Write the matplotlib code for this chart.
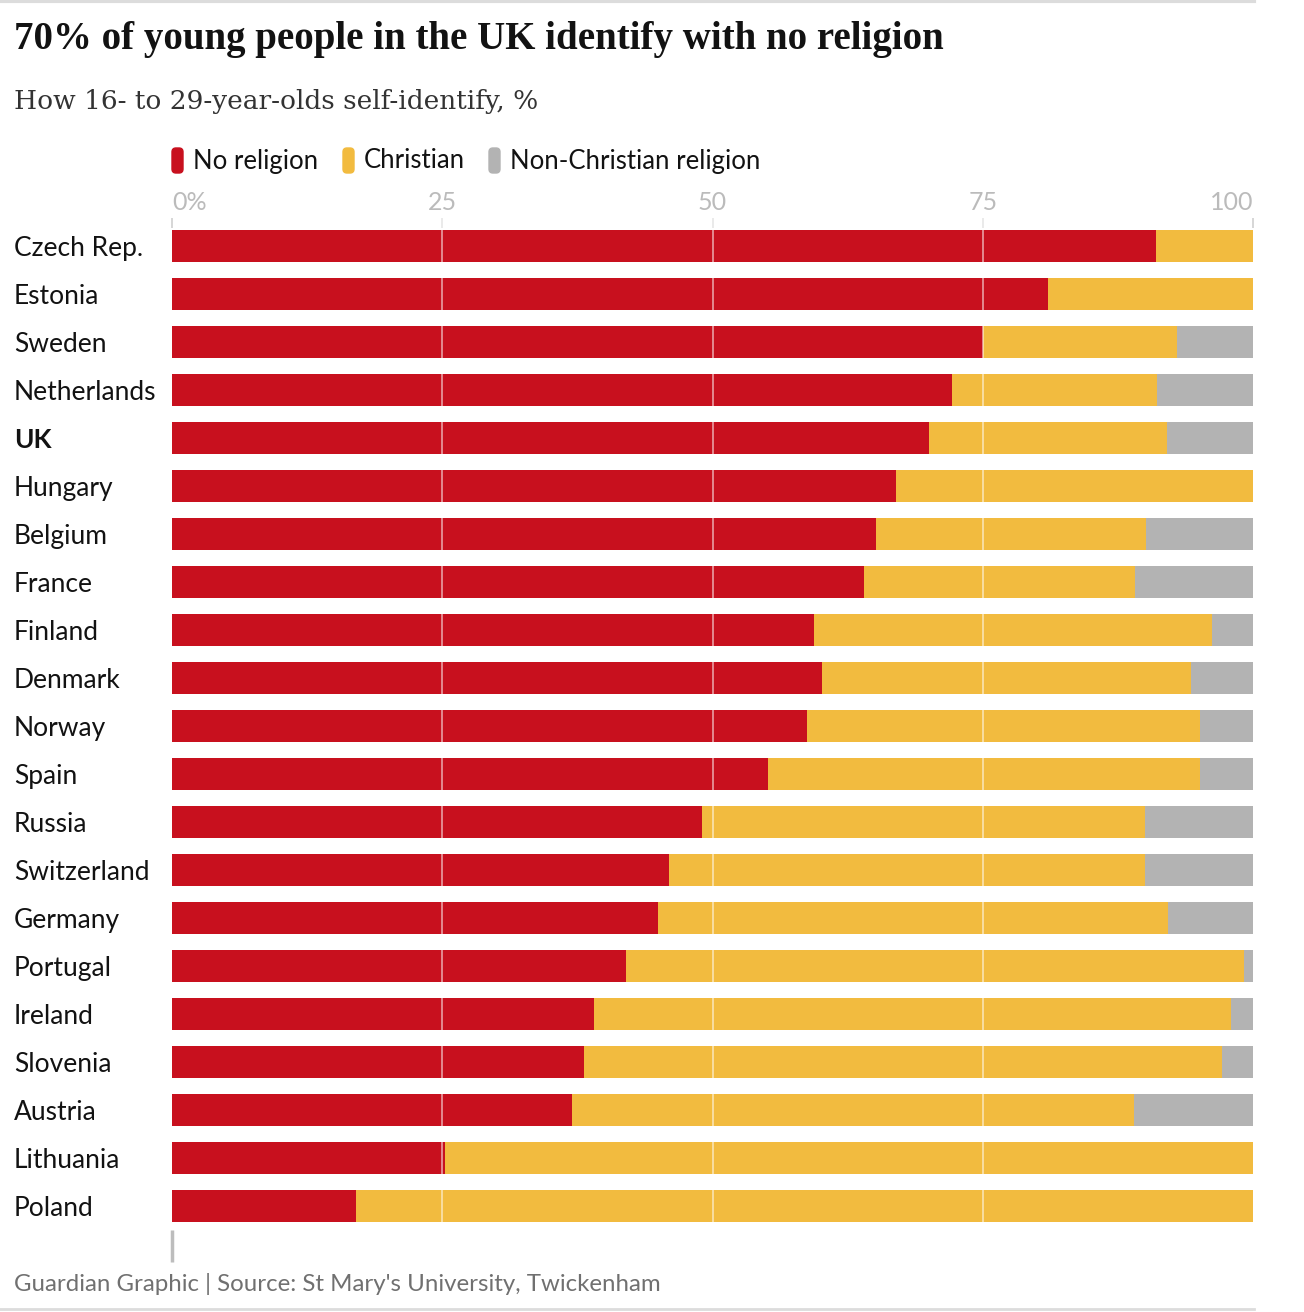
import matplotlib.pyplot as plt
from matplotlib.patches import FancyBboxPatch
import numpy as np

# data (% of 16-29 year olds)
countries = ['Czech Rep.', 'Estonia', 'Sweden', 'Netherlands', 'UK', 'Hungary',
             'Belgium', 'France', 'Finland', 'Denmark', 'Norway', 'Spain',
             'Russia', 'Switzerland', 'Germany', 'Portugal', 'Ireland',
             'Slovenia', 'Austria', 'Lithuania', 'Poland']
no_religion = [91, 81, 75, 72.2, 70, 67, 65.1, 64, 59.4, 60.1, 58.7, 55.1, 49, 46, 45, 42, 39, 38.1, 37, 25.3, 17]
christian = [9, 19, 18, 18.9, 22, 33, 25, 25.1, 36.8, 34.2, 36.4, 40, 41, 44, 47.1, 57.2, 59, 59, 52, 74.7, 83]
non_christian = [0, 0, 7, 8.9, 8, 0, 9.9, 10.9, 3.8, 5.7, 4.9, 4.9, 10, 10, 7.9, 0.8, 2, 2.9, 11, 0, 0]

x_ticks = [0, 25, 50, 75, 100]
x_labels = ['0%', '25', '50', '75', '100']

RED = '#c8101e'
YELLOW = '#f2bb3f'
GREY = '#b3b3b3'

W, H = 1304, 1312
fig = plt.figure(figsize=(W / 100, H / 100), dpi=100)

sans = ['Lato', 'DejaVu Sans']
serif = ['Liberation Serif', 'DejaVu Serif']

ax = fig.add_axes([172 / W, 1 - 1262 / H, 1081 / W, (1262 - 218) / H])

y = np.arange(len(countries))
nr = np.array(no_religion)
ch = np.array(christian)
nc = np.array(non_christian)
ax.barh(y, nr, height=0.667, color=RED, zorder=2)
ax.barh(y, ch, left=nr, height=0.667, color=YELLOW, zorder=2)
ax.barh(y, nc, left=nr + ch, height=0.667, color=GREY, zorder=2)

# light gridlines running through the bars
for t in x_ticks[1:-1]:
    ax.axvline(t, color='white', alpha=0.55, lw=1.3, zorder=3)

# small baseline stub under the last bar
ax.plot([0, 0], [len(countries) - 0.5, len(countries) + 0.17], color='#bdbdbd', lw=2.5,
        solid_capstyle='butt', clip_on=False)

ax.set_xlim(0, 100)
ax.set_ylim(len(countries) - 1 + 1.17, -0.58)
for s in ax.spines.values():
    s.set_visible(False)

ax.xaxis.tick_top()
ax.set_xticks(x_ticks)
ax.set_xticklabels(x_labels, fontsize=18, color='#bbbbbb', family=sans)
ax.tick_params(axis='x', direction='in', length=7, width=1.2, color='#d0d0d0', pad=3)
labs = ax.get_xticklabels()
labs[0].set_ha('left')
labs[-1].set_ha('right')

ax.set_yticks(y)
ax.set_yticklabels(countries, fontsize=19, color='#121212', family=sans, ha='left')
ax.tick_params(axis='y', length=0, pad=113.8)
for lab in ax.get_yticklabels():
    if lab.get_text() == 'UK':
        lab.set_fontweight('bold')

# header
fig.text(14 / W, 1 - 40 / H, '70% of young people in the UK identify with no religion',
         fontsize=28, fontweight='bold', family=serif, color='#121212', va='center')
fig.text(14 / W, 1 - 102 / H, 'How 16- to 29-year-olds self-identify, %',
         fontsize=19, family=['DejaVu Serif'], color='#333333', va='center')

# legend
legend_items = [('No religion', RED, 172), ('Christian', YELLOW, 343), ('Non-Christian religion', GREY, 489)]
for name, col, px in legend_items:
    fig.patches.append(FancyBboxPatch((px / W, 1 - 173 / H), 11 / W, 25 / H,
                                      boxstyle='round,pad=0,rounding_size=0.003',
                                      transform=fig.transFigure, color=col, figure=fig,
                                      mutation_aspect=H / W))
    fig.text((px + 21) / W, 1 - 161 / H, name, fontsize=18.5, family=sans,
             color='#121212', va='center')

fig.text(14 / W, 1 - 1284 / H, "Guardian Graphic | Source: St Mary's University, Twickenham",
         fontsize=17.3, family=sans, color='#707070', va='center')

# top and bottom rules
fig.add_artist(plt.Line2D([0, 1254 / W], [1 - 1 / H, 1 - 1 / H], color='#dcdcdc', lw=3))
fig.add_artist(plt.Line2D([0, 1254 / W], [1 - 1309 / H, 1 - 1309 / H], color='#dcdcdc', lw=2))

fig.savefig('out.png', dpi=100)
